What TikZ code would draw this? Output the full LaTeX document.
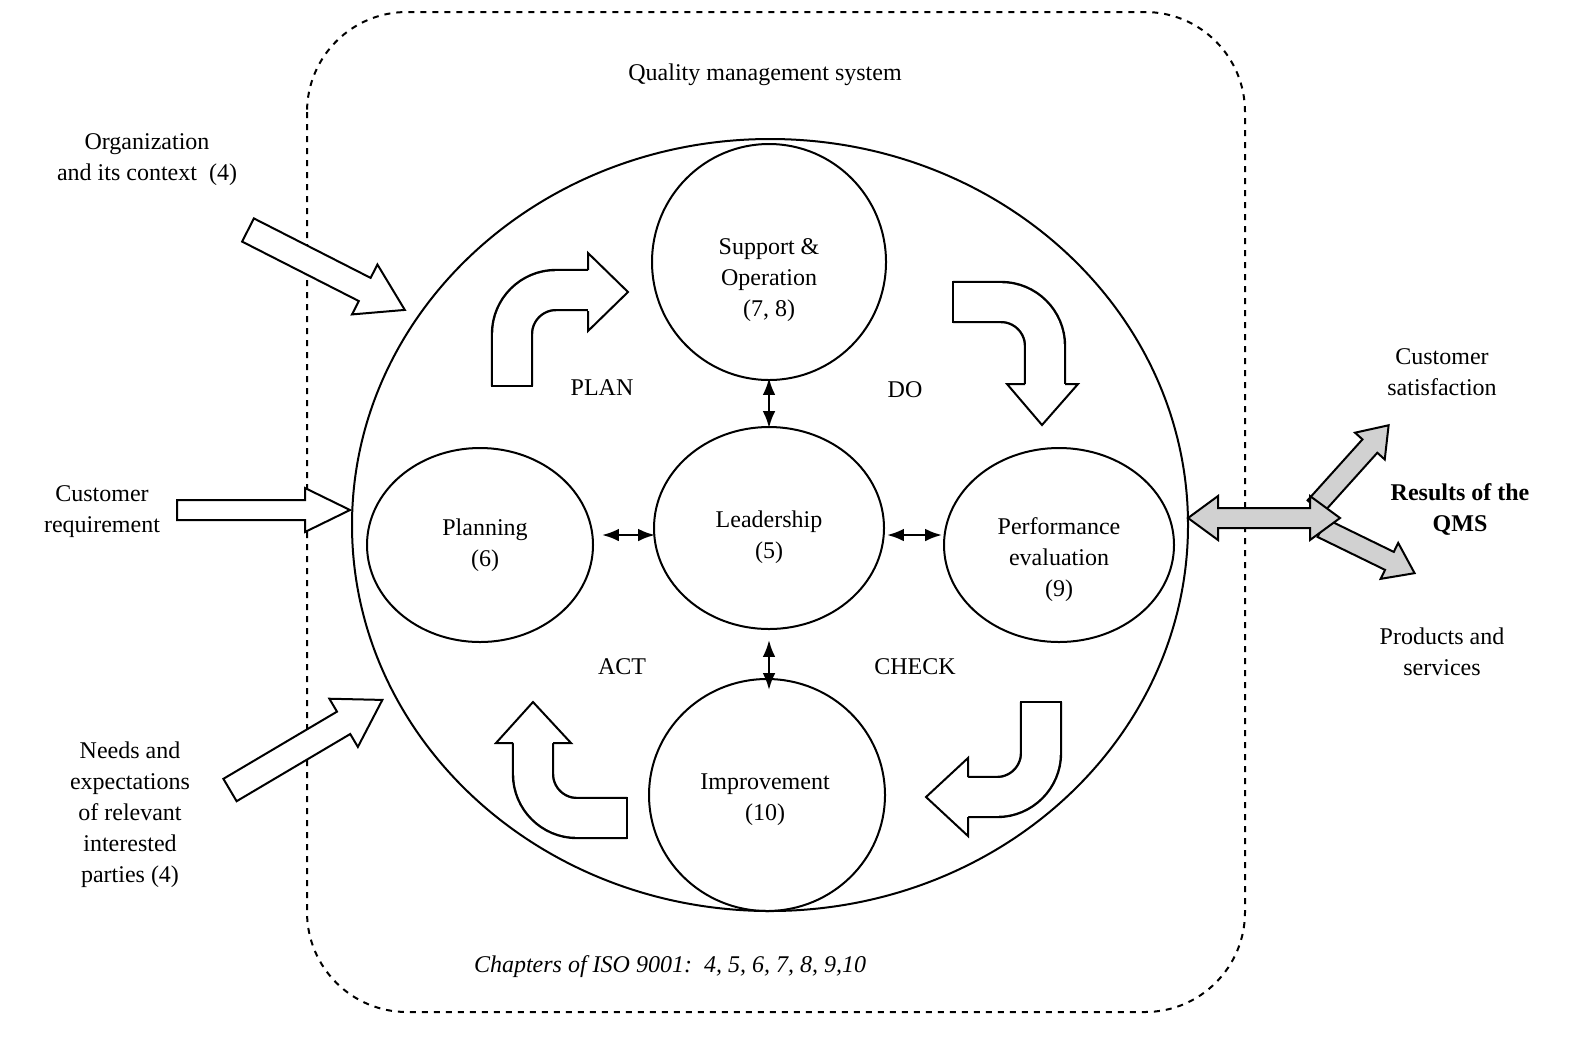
\documentclass[tikz,border=0pt]{standalone}
\usepackage{fontspec}
\setmainfont{Liberation Serif}
\usetikzlibrary{arrows.meta}
\newcommand\blockarr[8]{% x,y,angle,length,w,H,h,fill
\begin{scope}[shift={(#1,#2)},rotate=#3]
\draw[line width=1pt,fill=#8,line join=miter] (0,-#5) -- ({#4-#7},-#5) -- ({#4-#7},-#6) -- (#4,0) -- ({#4-#7},#6) -- ({#4-#7},#5) -- (0,#5) -- cycle;
\end{scope}}
\newcommand\curvarr[4]{% path, head triangle, head outline, tail line
\draw[line width=21.2pt,rounded corners=22pt] #1;
\draw[white,line width=18.8pt,rounded corners=22pt] #1;
\draw[line width=1pt] #4;
\fill[white] #2;
\draw[line width=1pt,line join=miter] #3;}
\begin{document}
\begin{tikzpicture}[x=0.5pt,y=-0.5pt,
  every node/.style={font=\fontsize{12}{15.5}\selectfont,align=center},
  dbl/.style={Latex-Latex,line width=1.2pt}]
\useasboundingbox (0,0) rectangle (1593,1040);
\draw[dashed,line width=1pt,rounded corners=50pt] (307,12) rectangle (1245,1012);
\node (title) at (765,75) {Quality management system};
\draw[line width=1pt] (770,525) ellipse [x radius=418, y radius=386];
\draw[line width=1pt] (769,262) ellipse [x radius=117, y radius=118];
\draw[line width=1pt] (769,528) ellipse [x radius=115, y radius=101];
\draw[line width=1pt] (480,545) ellipse [x radius=113, y radius=97];
\draw[line width=1pt] (1059,545) ellipse [x radius=115, y radius=97];
\draw[line width=1pt] (767,795) ellipse [x radius=118, y radius=116];
\node (sup) at (769,280) {Support \&\\Operation\\(7, 8)};
\node (lead) at (769,537) {Leadership\\(5)};
\node (plan) at (485,545) {Planning\\(6)};
\node (perf) at (1059,560) {Performance\\evaluation\\(9)};
\node (imp) at (765,800) {Improvement\\(10)};
\coordinate (a1) at (769,378); \coordinate (a2) at (769,428);
\coordinate (b1) at (602,535); \coordinate (b2) at (655,535);
\coordinate (c1) at (887,535); \coordinate (c2) at (942,535);
\coordinate (d1) at (769,640); \coordinate (d2) at (769,690);
\draw[dbl] (a1) -- (a2); \draw[dbl] (b1) -- (b2);
\draw[dbl] (c1) -- (c2); \draw[dbl] (d1) -- (d2);
\node at (602,388) {PLAN};
\node at (905,390) {DO};
\node at (622,667) {ACT};
\node at (915,667) {CHECK};
% curved arrows
\curvarr{(512,386) -- (512,290) -- (592,290)}
  {(588,253) -- (628,292) -- (588,331) -- cycle}
  {(588,311) -- (588,331) -- (628,292) -- (588,253) -- (588,270)}
  {(491,386) -- (533,386)};
\curvarr{(953,302) -- (1045,302) -- (1045,388)}
  {(1007,384) -- (1078,384) -- (1042,425) -- cycle}
  {(1025,384) -- (1007,384) -- (1042,425) -- (1078,384) -- (1065,384)}
  {(953,281) -- (953,323)};
\curvarr{(1041,702) -- (1041,797) -- (964,797)}
  {(968,758) -- (968,836) -- (926,797) -- cycle}
  {(968,777) -- (968,758) -- (926,797) -- (968,836) -- (968,817)}
  {(1020,702) -- (1062,702)};
\curvarr{(627,818) -- (533,818) -- (533,739)}
  {(496,743) -- (571,743) -- (533,702) -- cycle}
  {(513,743) -- (496,743) -- (533,702) -- (571,743) -- (553,743)}
  {(627,797) -- (627,839)};
% inputs
\blockarr{248}{230}{-27}{176}{13}{28}{45}{white}
\blockarr{177}{510}{0}{173}{10}{22}{45}{white}
\blockarr{230}{790}{30.6}{177}{13}{28}{45}{white}
\node at (147,160) {Organization\\and its context\ \ (4)};
\node at (102,512) {Customer\\requirement};
\node at (130,815) {Needs and\\expectations\\of relevant\\interested\\parties (4)};
% outputs
\blockarr{1315}{507}{48}{110}{10}{20}{28}{black!18}
\blockarr{1322}{528}{-26}{103}{10}{20}{28}{black!18}
\begin{scope}[shift={(1188,518)}]
\draw[line width=1pt,fill=black!18,line join=miter] (0,0) -- (30,-22) -- (30,-10) -- (122,-10) -- (122,-22) -- (152,0) -- (122,22) -- (122,10) -- (30,10) -- (30,22) -- cycle;
\end{scope}
\node at (1442,372) {Customer\\satisfaction};
\node[font=\fontsize{12}{15.5}\selectfont\bfseries] at (1460,509) {Results of the\\QMS};
\node at (1442,652) {Products and\\services};
\node[font=\fontsize{12}{15}\selectfont\itshape] at (670,967) {Chapters of ISO 9001:\ \ 4, 5, 6, 7, 8, 9,10};
\end{tikzpicture}
\end{document}
